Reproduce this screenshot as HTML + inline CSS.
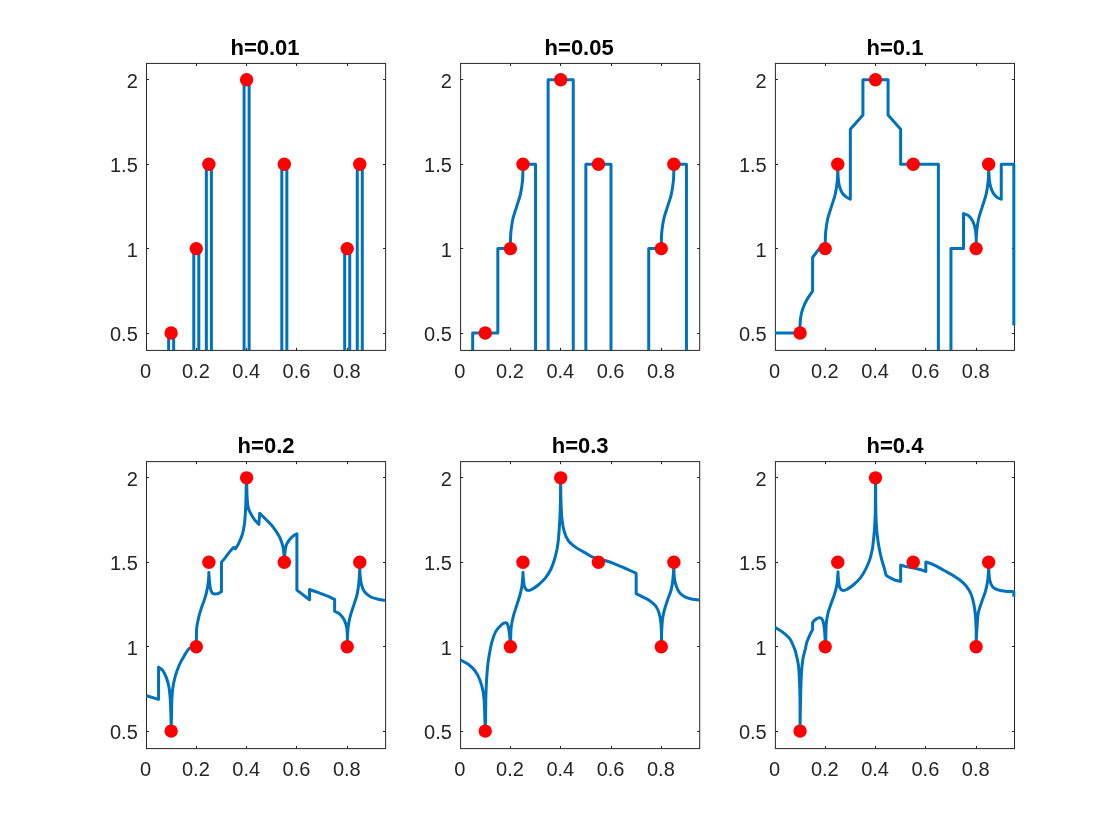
<!DOCTYPE html>
<html lang="en">
<head>
<meta charset="utf-8">
<title>Figure</title>
<style>
html,body{margin:0;padding:0;background:#fff;}
body{width:1120px;height:840px;overflow:hidden;}
svg{display:block;}
text{font-family:"Liberation Sans",sans-serif;}
.tk{font-size:20px;fill:#262626;}
.tt{font-size:22px;font-weight:bold;fill:#000;}
.ax{stroke:#262626;stroke-width:1;fill:none;}
.ln{stroke:#0072BD;stroke-width:3;fill:none;stroke-linejoin:round;stroke-linecap:butt;}
.dot{fill:#FF0000;}
</style>
</head>
<body>
<svg width="1120" height="840" viewBox="0 0 1120 840">
<rect x="0" y="0" width="1120" height="840" fill="#ffffff"/>
<defs>
<clipPath id="c0"><rect x="145.00" y="61.90" width="242.10" height="288.00"/></clipPath>
<clipPath id="c1"><rect x="459.10" y="61.90" width="242.10" height="288.00"/></clipPath>
<clipPath id="c2"><rect x="773.90" y="61.90" width="242.10" height="288.00"/></clipPath>
<clipPath id="c3"><rect x="145.00" y="460.10" width="242.10" height="288.00"/></clipPath>
<clipPath id="c4"><rect x="459.10" y="460.10" width="242.10" height="288.00"/></clipPath>
<clipPath id="c5"><rect x="773.90" y="460.10" width="242.10" height="288.00"/></clipPath>
</defs>
<g id="ax1">
<rect class="ax" x="146.50" y="63.40" width="239.10" height="287.00"/>
<path class="ax" d="M196.50 350.40 V347.80 M196.50 63.40 V66.00 M246.50 350.40 V347.80 M246.50 63.40 V66.00 M296.50 350.40 V347.80 M296.50 63.40 V66.00 M347.50 350.40 V347.80 M347.50 63.40 V66.00 M146.50 333.50 H149.10 M385.60 333.50 H383.00 M146.50 248.50 H149.10 M385.60 248.50 H383.00 M146.50 164.50 H149.10 M385.60 164.50 H383.00 M146.50 79.50 H149.10 M385.60 79.50 H383.00"/>
<text class="tk" x="145.60" y="377.80" text-anchor="middle">0</text>
<text class="tk" x="195.90" y="377.80" text-anchor="middle">0.2</text>
<text class="tk" x="246.20" y="377.80" text-anchor="middle">0.4</text>
<text class="tk" x="296.50" y="377.80" text-anchor="middle">0.6</text>
<text class="tk" x="346.80" y="377.80" text-anchor="middle">0.8</text>
<text class="tk" x="137.80" y="340.95" text-anchor="end">0.5</text>
<text class="tk" x="137.80" y="256.52" text-anchor="end">1</text>
<text class="tk" x="137.80" y="172.10" text-anchor="end">1.5</text>
<text class="tk" x="137.80" y="87.68" text-anchor="end">2</text>
<text class="tt" x="265.05" y="54.90" text-anchor="middle">h=0.01</text>
<path class="ln" clip-path="url(#c0)" d="M168.63 366.82 L168.63 333.05 L173.66 333.05 L173.66 366.82 M193.78 366.82 L193.78 248.62 L198.81 248.62 L198.81 366.82 M206.36 366.82 L206.36 164.20 L211.39 164.20 L211.39 366.82 M244.09 366.82 L244.09 79.78 L249.12 79.78 L249.12 366.82 M281.81 366.82 L281.81 164.20 L286.84 164.20 L286.84 366.82 M344.69 366.82 L344.69 248.62 L349.72 248.62 L349.72 366.82 M357.26 366.82 L357.26 164.20 L362.29 164.20 L362.29 366.82"/>
<circle class="dot" cx="171.15" cy="333.05" r="6.7"/>
<circle class="dot" cx="196.30" cy="248.62" r="6.7"/>
<circle class="dot" cx="208.88" cy="164.20" r="6.7"/>
<circle class="dot" cx="246.60" cy="79.78" r="6.7"/>
<circle class="dot" cx="284.33" cy="164.20" r="6.7"/>
<circle class="dot" cx="347.20" cy="248.62" r="6.7"/>
<circle class="dot" cx="359.77" cy="164.20" r="6.7"/>
</g>
<g id="ax2">
<rect class="ax" x="460.60" y="63.40" width="239.10" height="287.00"/>
<path class="ax" d="M510.50 350.40 V347.80 M510.50 63.40 V66.00 M560.50 350.40 V347.80 M560.50 63.40 V66.00 M611.50 350.40 V347.80 M611.50 63.40 V66.00 M661.50 350.40 V347.80 M661.50 63.40 V66.00 M460.60 333.50 H463.20 M699.70 333.50 H697.10 M460.60 248.50 H463.20 M699.70 248.50 H697.10 M460.60 164.50 H463.20 M699.70 164.50 H697.10 M460.60 79.50 H463.20 M699.70 79.50 H697.10"/>
<text class="tk" x="459.70" y="377.80" text-anchor="middle">0</text>
<text class="tk" x="510.00" y="377.80" text-anchor="middle">0.2</text>
<text class="tk" x="560.30" y="377.80" text-anchor="middle">0.4</text>
<text class="tk" x="610.60" y="377.80" text-anchor="middle">0.6</text>
<text class="tk" x="660.90" y="377.80" text-anchor="middle">0.8</text>
<text class="tk" x="451.90" y="340.95" text-anchor="end">0.5</text>
<text class="tk" x="451.90" y="256.52" text-anchor="end">1</text>
<text class="tk" x="451.90" y="172.10" text-anchor="end">1.5</text>
<text class="tk" x="451.90" y="87.68" text-anchor="end">2</text>
<text class="tt" x="579.15" y="54.90" text-anchor="middle">h=0.05</text>
<path class="ln" clip-path="url(#c1)" d="M472.68 366.82 L472.68 333.05 L497.83 333.05 L497.83 248.62 L510.40 248.62 C510.40 246.09 510.40 243.56 510.48 241.03 C510.57 237.93 510.57 234.82 510.90 231.74 C511.38 227.38 511.94 223.01 512.92 218.74 C513.87 214.55 515.43 210.52 516.69 206.41 C517.95 202.30 519.50 198.28 520.46 194.09 C521.44 189.81 521.99 185.44 522.47 181.09 C522.81 178.00 522.81 174.90 522.90 171.80 C522.97 169.27 522.98 166.73 522.98 164.20 L535.55 164.20 L535.55 366.82 M548.12 366.82 L548.12 79.78 L573.27 79.78 L573.27 366.82 M585.85 366.82 L585.85 164.20 L611.00 164.20 L611.00 366.82 M648.73 366.82 L648.73 248.62 L661.30 248.62 C661.30 246.09 661.30 243.56 661.38 241.03 C661.47 237.93 661.47 234.82 661.80 231.74 C662.28 227.38 662.84 223.01 663.82 218.74 C664.77 214.55 666.33 210.52 667.59 206.41 C668.85 202.30 670.40 198.28 671.36 194.09 C672.34 189.81 672.89 185.44 673.37 181.09 C673.71 178.00 673.71 174.90 673.80 171.80 C673.87 169.27 673.88 166.73 673.88 164.20 L686.45 164.20 L686.45 366.82"/>
<circle class="dot" cx="485.25" cy="333.05" r="6.7"/>
<circle class="dot" cx="510.40" cy="248.62" r="6.7"/>
<circle class="dot" cx="522.98" cy="164.20" r="6.7"/>
<circle class="dot" cx="560.70" cy="79.78" r="6.7"/>
<circle class="dot" cx="598.43" cy="164.20" r="6.7"/>
<circle class="dot" cx="661.30" cy="248.62" r="6.7"/>
<circle class="dot" cx="673.88" cy="164.20" r="6.7"/>
</g>
<g id="ax3">
<rect class="ax" x="775.40" y="63.40" width="239.10" height="287.00"/>
<path class="ax" d="M825.50 350.40 V347.80 M825.50 63.40 V66.00 M875.50 350.40 V347.80 M875.50 63.40 V66.00 M925.50 350.40 V347.80 M925.50 63.40 V66.00 M976.50 350.40 V347.80 M976.50 63.40 V66.00 M775.40 333.50 H778.00 M1014.50 333.50 H1011.90 M775.40 248.50 H778.00 M1014.50 248.50 H1011.90 M775.40 164.50 H778.00 M1014.50 164.50 H1011.90 M775.40 79.50 H778.00 M1014.50 79.50 H1011.90"/>
<text class="tk" x="774.50" y="377.80" text-anchor="middle">0</text>
<text class="tk" x="824.80" y="377.80" text-anchor="middle">0.2</text>
<text class="tk" x="875.10" y="377.80" text-anchor="middle">0.4</text>
<text class="tk" x="925.40" y="377.80" text-anchor="middle">0.6</text>
<text class="tk" x="975.70" y="377.80" text-anchor="middle">0.8</text>
<text class="tk" x="766.70" y="340.95" text-anchor="end">0.5</text>
<text class="tk" x="766.70" y="256.52" text-anchor="end">1</text>
<text class="tk" x="766.70" y="172.10" text-anchor="end">1.5</text>
<text class="tk" x="766.70" y="87.68" text-anchor="end">2</text>
<text class="tt" x="894.95" y="54.90" text-anchor="middle">h=0.1</text>
<path class="ln" clip-path="url(#c2)" d="M774.90 333.05 L800.05 333.05 C800.05 330.60 799.90 328.16 800.00 325.71 C800.12 322.85 800.24 319.97 800.71 317.14 C801.20 314.24 801.86 311.34 802.86 308.57 C804.01 305.36 805.49 302.27 807.14 299.29 C808.75 296.39 810.80 293.77 812.62 291.01 L812.62 257.41 L819.29 248.62 L825.20 248.62 C825.20 246.09 825.20 243.56 825.28 241.03 C825.37 237.93 825.37 234.82 825.70 231.74 C826.18 227.38 826.74 223.01 827.72 218.74 C828.67 214.55 830.23 210.52 831.49 206.41 C832.75 202.30 834.30 198.28 835.26 194.09 C836.24 189.81 836.79 185.44 837.27 181.09 C837.61 178.00 837.61 174.90 837.70 171.80 C837.77 169.27 837.77 166.73 837.77 164.20 C837.77 168.52 837.84 172.84 838.14 177.14 C838.34 180.02 838.57 182.92 839.29 185.71 C839.92 188.20 840.78 190.68 842.14 192.86 C843.21 194.57 844.83 195.91 846.43 197.14 C847.59 198.04 849.04 198.48 850.35 199.15 L850.35 129.25 L862.92 114.90 L862.92 79.78 L888.07 79.78 L888.07 114.90 L900.65 129.25 L900.65 164.20 L938.38 164.20 L938.38 366.82 M950.95 366.82 L950.95 248.62 L963.52 248.62 L963.52 213.50 C965.21 214.24 967.17 214.53 968.57 215.71 C970.39 217.26 971.83 219.28 972.86 221.43 C974.15 224.12 974.89 227.07 975.43 230.00 C976.04 233.29 976.17 236.66 976.29 240.00 C976.39 242.87 976.10 245.75 976.10 248.62 C976.10 246.09 976.10 243.56 976.18 241.03 C976.27 237.93 976.27 234.82 976.60 231.74 C977.08 227.38 977.64 223.01 978.62 218.74 C979.57 214.55 981.13 210.52 982.39 206.41 C983.64 202.30 985.20 198.28 986.16 194.09 C987.14 189.81 987.69 185.44 988.17 181.09 C988.51 178.00 988.51 174.90 988.60 171.80 C988.67 169.27 988.67 166.73 988.67 164.20 C988.67 168.99 988.86 173.80 989.29 178.57 C989.54 181.46 989.92 184.36 990.71 187.14 C991.36 189.40 992.27 191.62 993.57 193.57 C994.69 195.25 996.22 196.67 997.86 197.86 C998.84 198.57 1000.12 198.72 1001.25 199.15 L1001.25 164.20 L1013.82 164.20 L1013.82 325.62"/>
<circle class="dot" cx="800.05" cy="333.05" r="6.7"/>
<circle class="dot" cx="825.20" cy="248.62" r="6.7"/>
<circle class="dot" cx="837.77" cy="164.20" r="6.7"/>
<circle class="dot" cx="875.50" cy="79.78" r="6.7"/>
<circle class="dot" cx="913.23" cy="164.20" r="6.7"/>
<circle class="dot" cx="976.10" cy="248.62" r="6.7"/>
<circle class="dot" cx="988.67" cy="164.20" r="6.7"/>
</g>
<g id="ax4">
<rect class="ax" x="146.50" y="461.60" width="239.10" height="287.00"/>
<path class="ax" d="M196.50 748.60 V746.00 M196.50 461.60 V464.20 M246.50 748.60 V746.00 M246.50 461.60 V464.20 M296.50 748.60 V746.00 M296.50 461.60 V464.20 M347.50 748.60 V746.00 M347.50 461.60 V464.20 M146.50 731.50 H149.10 M385.60 731.50 H383.00 M146.50 646.50 H149.10 M385.60 646.50 H383.00 M146.50 562.50 H149.10 M385.60 562.50 H383.00 M146.50 477.50 H149.10 M385.60 477.50 H383.00"/>
<text class="tk" x="145.60" y="776.00" text-anchor="middle">0</text>
<text class="tk" x="195.90" y="776.00" text-anchor="middle">0.2</text>
<text class="tk" x="246.20" y="776.00" text-anchor="middle">0.4</text>
<text class="tk" x="296.50" y="776.00" text-anchor="middle">0.6</text>
<text class="tk" x="346.80" y="776.00" text-anchor="middle">0.8</text>
<text class="tk" x="137.80" y="739.00" text-anchor="end">0.5</text>
<text class="tk" x="137.80" y="654.58" text-anchor="end">1</text>
<text class="tk" x="137.80" y="570.15" text-anchor="end">1.5</text>
<text class="tk" x="137.80" y="485.73" text-anchor="end">2</text>
<text class="tt" x="266.05" y="453.10" text-anchor="middle">h=0.2</text>
<path class="ln" clip-path="url(#c3)" d="M146.43 695.71 L158.57 699.36 L158.57 667.11 C160.00 668.31 161.76 669.21 162.86 670.71 C164.43 672.86 165.50 675.36 166.43 677.86 C167.55 680.87 168.45 683.98 169.00 687.14 C169.74 691.39 169.99 695.70 170.29 700.00 C170.61 704.75 170.72 709.52 170.86 714.29 C171.01 719.89 171.15 725.49 171.15 731.10 C171.15 727.40 171.35 723.70 171.43 720.00 C171.54 714.76 171.51 709.52 171.71 704.29 C171.90 699.52 172.00 694.74 172.57 690.00 C173.10 685.67 173.87 681.36 175.00 677.14 C176.11 673.00 177.58 668.94 179.29 665.00 C180.68 661.77 182.46 658.72 184.29 655.71 C185.80 653.23 186.96 650.32 189.29 648.57 C191.22 647.12 193.96 647.31 196.30 646.68 C196.30 643.74 196.36 640.80 196.43 637.86 C196.50 634.52 196.36 631.17 196.71 627.86 C197.08 624.49 197.79 621.16 198.57 617.86 C199.37 614.48 200.37 611.16 201.43 607.86 C202.51 604.49 203.98 601.25 205.00 597.86 C205.99 594.57 206.78 591.23 207.43 587.86 C207.97 585.03 208.31 582.16 208.57 579.29 C208.79 576.91 208.86 574.53 208.86 572.14 C208.86 575.01 209.17 577.86 209.43 580.71 C209.65 583.10 209.76 585.52 210.29 587.86 C210.67 589.59 211.06 591.45 212.14 592.86 C212.77 593.67 213.98 593.93 215.00 594.00 C216.21 594.08 217.43 593.70 218.57 593.29 C219.61 592.90 220.49 592.18 221.45 591.63 L221.45 562.25 C222.87 560.55 224.34 558.88 225.71 557.14 C227.19 555.27 228.50 553.28 230.00 551.43 C231.12 550.04 232.38 548.76 233.57 547.43 L235.43 548.86 C236.48 547.10 237.68 545.42 238.57 543.57 C239.92 540.79 241.23 537.96 242.14 535.00 C243.15 531.74 243.80 528.37 244.29 525.00 C244.90 520.74 245.16 516.44 245.43 512.14 C245.73 507.39 245.86 502.62 246.00 497.86 C246.14 493.10 246.14 488.33 246.29 483.57 C246.34 481.65 246.60 479.74 246.60 477.83 C246.60 479.74 246.66 481.66 246.71 483.57 C246.84 488.33 246.84 493.10 247.14 497.86 C247.36 501.21 247.54 504.59 248.29 507.86 C248.74 509.88 249.75 511.74 250.71 513.57 C251.76 515.56 252.93 517.50 254.29 519.29 C255.65 521.08 257.33 522.62 258.86 524.29 L259.71 513.29 C261.71 515.29 263.71 517.29 265.71 519.29 C267.62 521.19 269.65 522.97 271.43 525.00 C273.00 526.79 274.39 528.73 275.71 530.71 C277.25 533.02 278.85 535.33 280.00 537.86 C281.25 540.60 282.17 543.50 282.86 546.43 C283.51 549.24 283.73 552.13 284.00 555.00 C284.22 557.41 284.33 559.83 284.33 562.25 C284.33 560.07 284.49 557.89 284.71 555.71 C285.05 552.37 285.06 548.94 286.00 545.71 C286.61 543.60 287.96 541.75 289.29 540.00 C290.51 538.39 292.01 537.00 293.57 535.71 C294.57 534.89 295.79 534.38 296.90 533.71 L296.90 590.11 L309.48 599.73 L309.48 589.43 C312.03 590.34 314.60 591.20 317.14 592.14 C320.01 593.20 322.87 594.29 325.71 595.43 C327.64 596.20 329.54 597.02 331.43 597.86 C332.51 598.34 333.56 598.88 334.62 599.40 L334.62 611.22 C336.42 612.24 338.47 612.90 340.00 614.29 C341.76 615.89 343.26 617.85 344.29 620.00 C345.58 622.69 346.39 625.62 346.86 628.57 C347.45 632.34 347.36 636.19 347.43 640.00 C347.47 642.23 347.20 644.45 347.20 646.68 C347.20 640.63 347.43 634.58 348.00 628.57 C348.37 624.72 349.08 620.90 350.00 617.14 C350.95 613.27 352.38 609.52 353.57 605.71 C354.76 601.90 356.24 598.17 357.14 594.29 C358.01 590.53 358.45 586.69 358.86 582.86 C359.31 578.59 359.52 574.29 359.71 570.00 C359.83 567.42 359.77 564.83 359.77 562.25 C359.77 566.26 359.70 570.28 360.00 574.29 C360.25 577.64 360.61 581.02 361.43 584.29 C362.05 586.77 362.81 589.33 364.29 591.43 C365.75 593.50 367.82 595.14 370.00 596.43 C372.18 597.71 374.70 598.35 377.14 599.00 C379.69 599.68 382.33 599.94 384.92 600.41"/>
<circle class="dot" cx="171.15" cy="731.10" r="6.7"/>
<circle class="dot" cx="196.30" cy="646.68" r="6.7"/>
<circle class="dot" cx="208.88" cy="562.25" r="6.7"/>
<circle class="dot" cx="246.60" cy="477.83" r="6.7"/>
<circle class="dot" cx="284.33" cy="562.25" r="6.7"/>
<circle class="dot" cx="347.20" cy="646.68" r="6.7"/>
<circle class="dot" cx="359.77" cy="562.25" r="6.7"/>
</g>
<g id="ax5">
<rect class="ax" x="460.60" y="461.60" width="239.10" height="287.00"/>
<path class="ax" d="M510.50 748.60 V746.00 M510.50 461.60 V464.20 M560.50 748.60 V746.00 M560.50 461.60 V464.20 M611.50 748.60 V746.00 M611.50 461.60 V464.20 M661.50 748.60 V746.00 M661.50 461.60 V464.20 M460.60 731.50 H463.20 M699.70 731.50 H697.10 M460.60 646.50 H463.20 M699.70 646.50 H697.10 M460.60 562.50 H463.20 M699.70 562.50 H697.10 M460.60 477.50 H463.20 M699.70 477.50 H697.10"/>
<text class="tk" x="459.70" y="776.00" text-anchor="middle">0</text>
<text class="tk" x="510.00" y="776.00" text-anchor="middle">0.2</text>
<text class="tk" x="560.30" y="776.00" text-anchor="middle">0.4</text>
<text class="tk" x="610.60" y="776.00" text-anchor="middle">0.6</text>
<text class="tk" x="660.90" y="776.00" text-anchor="middle">0.8</text>
<text class="tk" x="451.90" y="739.00" text-anchor="end">0.5</text>
<text class="tk" x="451.90" y="654.58" text-anchor="end">1</text>
<text class="tk" x="451.90" y="570.15" text-anchor="end">1.5</text>
<text class="tk" x="451.90" y="485.73" text-anchor="end">2</text>
<text class="tt" x="580.15" y="453.10" text-anchor="middle">h=0.3</text>
<path class="ln" clip-path="url(#c4)" d="M460.43 660.00 C463.05 661.43 465.91 662.48 468.29 664.29 C470.96 666.33 473.48 668.68 475.43 671.43 C477.58 674.47 479.15 677.93 480.43 681.43 C481.78 685.12 482.65 688.98 483.29 692.86 C483.98 697.10 484.19 701.42 484.43 705.71 C484.77 711.90 484.80 718.10 485.00 724.29 C485.07 726.56 485.25 728.83 485.25 731.10 C485.25 727.40 485.51 723.70 485.57 720.00 C485.71 712.38 485.67 704.76 485.86 697.14 C486.00 691.43 486.21 685.71 486.57 680.00 C486.93 674.28 487.33 668.55 488.00 662.86 C488.48 658.78 489.33 654.76 490.00 650.71 C490.62 647.86 491.04 644.95 491.86 642.14 C492.85 638.75 493.74 635.26 495.43 632.14 C496.88 629.46 498.91 627.07 501.14 625.00 C502.31 623.91 503.84 623.03 505.43 622.86 C506.28 622.76 507.22 623.50 507.57 624.29 C508.48 626.28 508.65 628.55 509.00 630.71 C509.46 633.55 509.75 636.42 510.00 639.29 C510.22 641.74 510.40 644.21 510.40 646.68 C510.40 643.73 510.60 640.80 510.71 637.86 C510.85 634.52 510.75 631.17 511.14 627.86 C511.60 624.01 512.35 620.19 513.29 616.43 C514.25 612.56 515.66 608.81 516.86 605.00 C517.90 601.67 519.09 598.37 520.00 595.00 C520.76 592.18 521.40 589.32 521.86 586.43 C522.31 583.59 522.49 580.72 522.71 577.86 C522.87 575.96 523.00 574.05 523.00 572.14 C523.00 575.01 523.25 577.87 523.57 580.71 C523.82 582.88 523.89 585.13 524.71 587.14 C525.27 588.48 526.18 590.01 527.57 590.43 C528.99 590.85 530.54 589.95 531.86 589.29 C534.15 588.12 536.32 586.66 538.29 585.00 C540.86 582.83 543.33 580.49 545.43 577.86 C547.54 575.22 549.36 572.32 550.86 569.29 C552.43 566.10 553.53 562.68 554.57 559.29 C555.58 556.01 556.19 552.62 557.00 549.29 C557.43 546.43 557.98 543.59 558.29 540.71 C558.79 535.96 559.12 531.20 559.43 526.43 C559.74 521.67 559.96 516.91 560.14 512.14 C560.32 507.38 560.42 502.62 560.50 497.86 C560.57 493.57 560.53 489.29 560.57 485.00 C560.60 482.61 560.70 480.22 560.70 477.83 C560.70 480.22 560.70 482.61 560.71 485.00 C560.75 489.29 560.76 493.57 560.86 497.86 C560.95 501.67 561.08 505.48 561.29 509.29 C561.46 512.62 561.58 515.97 562.00 519.29 C562.49 523.12 562.91 527.00 564.00 530.71 C565.02 534.19 566.21 537.74 568.29 540.71 C570.11 543.34 572.84 545.26 575.43 547.14 C578.10 549.09 581.15 550.46 584.00 552.14 C586.39 553.56 588.76 555.00 591.14 556.43 C593.52 557.38 595.83 558.54 598.29 559.29 C600.38 559.92 602.61 560.00 604.71 560.57 C607.85 561.43 610.95 562.45 614.00 563.57 C616.90 564.64 619.73 565.91 622.57 567.14 C625.45 568.39 628.30 569.69 631.14 571.00 C632.82 571.77 634.48 572.60 636.15 573.39 L636.15 593.66 C638.29 594.72 640.45 595.75 642.57 596.86 C644.97 598.11 647.49 599.18 649.71 600.71 C651.80 602.15 653.89 603.70 655.43 605.71 C657.05 607.83 658.20 610.32 659.00 612.86 C660.02 616.09 660.54 619.48 660.86 622.86 C661.40 628.55 661.47 634.28 661.57 640.00 C661.61 642.23 661.30 644.45 661.30 646.68 C661.30 638.73 661.54 630.78 662.14 622.86 C662.44 619.01 663.11 615.18 664.00 611.43 C664.92 607.55 666.31 603.79 667.57 600.00 C668.69 596.64 670.24 593.42 671.14 590.00 C672.01 586.73 672.45 583.36 672.86 580.00 C673.31 576.21 673.50 572.39 673.71 568.57 C673.83 566.47 673.88 564.36 673.88 562.25 C673.88 567.22 673.81 572.20 674.29 577.14 C674.57 580.05 675.19 582.95 676.14 585.71 C677.01 588.23 678.04 590.79 679.71 592.86 C681.22 594.71 683.30 596.08 685.43 597.14 C687.65 598.25 690.14 598.76 692.57 599.29 C694.69 599.74 696.87 599.81 699.02 600.07"/>
<circle class="dot" cx="485.25" cy="731.10" r="6.7"/>
<circle class="dot" cx="510.40" cy="646.68" r="6.7"/>
<circle class="dot" cx="522.98" cy="562.25" r="6.7"/>
<circle class="dot" cx="560.70" cy="477.83" r="6.7"/>
<circle class="dot" cx="598.43" cy="562.25" r="6.7"/>
<circle class="dot" cx="661.30" cy="646.68" r="6.7"/>
<circle class="dot" cx="673.88" cy="562.25" r="6.7"/>
</g>
<g id="ax6">
<rect class="ax" x="775.40" y="461.60" width="239.10" height="287.00"/>
<path class="ax" d="M825.50 748.60 V746.00 M825.50 461.60 V464.20 M875.50 748.60 V746.00 M875.50 461.60 V464.20 M925.50 748.60 V746.00 M925.50 461.60 V464.20 M976.50 748.60 V746.00 M976.50 461.60 V464.20 M775.40 731.50 H778.00 M1014.50 731.50 H1011.90 M775.40 646.50 H778.00 M1014.50 646.50 H1011.90 M775.40 562.50 H778.00 M1014.50 562.50 H1011.90 M775.40 477.50 H778.00 M1014.50 477.50 H1011.90"/>
<text class="tk" x="774.50" y="776.00" text-anchor="middle">0</text>
<text class="tk" x="824.80" y="776.00" text-anchor="middle">0.2</text>
<text class="tk" x="875.10" y="776.00" text-anchor="middle">0.4</text>
<text class="tk" x="925.40" y="776.00" text-anchor="middle">0.6</text>
<text class="tk" x="975.70" y="776.00" text-anchor="middle">0.8</text>
<text class="tk" x="766.70" y="739.00" text-anchor="end">0.5</text>
<text class="tk" x="766.70" y="654.58" text-anchor="end">1</text>
<text class="tk" x="766.70" y="570.15" text-anchor="end">1.5</text>
<text class="tk" x="766.70" y="485.73" text-anchor="end">2</text>
<text class="tt" x="894.95" y="453.10" text-anchor="middle">h=0.4</text>
<path class="ln" clip-path="url(#c5)" d="M775.43 627.57 C778.05 629.24 780.87 630.62 783.29 632.57 C785.90 634.69 788.59 636.90 790.43 639.71 C792.70 643.19 793.76 647.33 795.43 651.14 C796.38 655.52 797.67 659.84 798.29 664.29 C799.01 669.49 799.18 674.75 799.43 680.00 C799.75 686.66 799.92 693.33 800.00 700.00 C800.13 710.37 800.05 720.73 800.05 731.10 C800.05 722.64 800.27 714.18 800.43 705.71 C800.54 699.52 800.65 693.33 800.86 687.14 C801.03 681.90 801.18 676.66 801.57 671.43 C801.89 667.13 802.28 662.82 803.00 658.57 C803.57 655.19 804.62 651.90 805.43 648.57 C805.90 646.43 806.16 644.23 806.86 642.14 C807.84 639.21 809.12 636.38 810.43 633.57 C811.05 632.25 811.89 631.05 812.62 629.79 L812.62 622.53 C813.37 621.69 813.98 620.71 814.86 620.00 C815.94 619.13 817.10 618.25 818.43 617.86 C819.30 617.60 820.40 617.61 821.14 618.14 C822.10 618.83 822.68 620.01 823.00 621.14 C823.79 623.88 824.09 626.74 824.43 629.57 C824.81 632.80 825.00 636.04 825.14 639.29 C825.25 641.75 825.20 644.21 825.20 646.68 C825.20 643.73 825.73 640.80 825.86 637.86 C826.04 633.57 825.79 629.27 826.14 625.00 C826.46 621.16 826.98 617.32 827.86 613.57 C828.65 610.15 830.00 606.89 831.14 603.57 C832.29 600.22 833.67 596.95 834.71 593.57 C835.58 590.76 836.35 587.90 836.86 585.00 C837.35 582.17 837.47 579.29 837.71 576.43 C837.85 574.91 838.00 573.38 838.00 571.86 C838.00 574.82 838.24 577.77 838.57 580.71 C838.81 582.88 838.89 585.13 839.71 587.14 C840.27 588.48 841.18 590.01 842.57 590.43 C843.99 590.85 845.54 589.95 846.86 589.29 C849.15 588.12 851.32 586.66 853.29 585.00 C855.86 582.83 858.36 580.51 860.43 577.86 C862.58 575.09 864.28 571.99 865.86 568.86 C867.48 565.63 868.89 562.29 870.00 558.86 C871.13 555.36 871.71 551.71 872.57 548.14 C873.05 543.76 873.59 539.39 874.00 535.00 C874.35 531.20 874.64 527.39 874.86 523.57 C875.07 519.77 875.19 515.95 875.29 512.14 C875.40 507.38 875.43 502.62 875.47 497.86 C875.51 493.57 875.49 489.29 875.50 485.00 C875.50 482.61 875.50 480.22 875.50 477.83 C875.50 480.22 875.62 482.61 875.64 485.00 C875.69 489.29 875.68 493.57 875.71 497.86 C875.75 502.62 875.75 507.38 875.86 512.14 C875.94 515.95 876.06 519.77 876.29 523.57 C876.49 527.15 876.74 530.73 877.14 534.29 C877.60 538.35 878.13 542.41 878.86 546.43 C879.66 550.89 880.61 555.32 881.71 559.71 C882.47 562.71 883.52 565.62 884.43 568.57 C885.00 570.71 885.19 573.00 886.14 575.00 C886.53 575.83 887.57 576.14 888.29 576.71 C890.43 577.81 892.47 579.13 894.71 580.00 C896.62 580.74 898.67 581.00 900.65 581.50 L900.65 565.12 C902.96 565.70 905.25 566.33 907.57 566.86 C911.37 567.72 915.22 568.33 919.00 569.29 C921.31 569.87 923.53 570.73 925.80 571.45 L925.80 561.91 C928.30 562.80 930.88 563.46 933.29 564.57 C936.73 566.16 939.97 568.16 943.29 570.00 C947.11 572.12 951.04 574.07 954.71 576.43 C957.72 578.36 960.70 580.40 963.29 582.86 C965.50 584.96 967.45 587.37 969.00 590.00 C970.57 592.66 971.74 595.59 972.57 598.57 C973.75 602.77 974.48 607.10 975.00 611.43 C975.68 617.12 975.96 622.85 976.14 628.57 C976.33 634.60 976.10 640.64 976.10 646.68 C976.10 639.68 976.69 632.70 977.14 625.71 C977.42 621.42 977.47 617.08 978.29 612.86 C979.05 608.94 980.60 605.21 981.86 601.43 C982.98 598.07 984.46 594.83 985.43 591.43 C986.37 588.15 987.08 584.80 987.57 581.43 C988.13 577.64 988.35 573.82 988.57 570.00 C988.72 567.42 988.67 564.83 988.67 562.25 C988.67 567.22 988.73 572.21 989.29 577.14 C989.56 579.59 990.09 582.06 991.14 584.29 C991.94 585.97 993.16 587.55 994.71 588.57 C996.38 589.68 998.47 589.99 1000.43 590.43 C1002.78 590.95 1005.18 591.21 1007.57 591.43 C1009.65 591.61 1011.74 591.56 1013.82 591.63 L1013.82 596.86"/>
<circle class="dot" cx="800.05" cy="731.10" r="6.7"/>
<circle class="dot" cx="825.20" cy="646.68" r="6.7"/>
<circle class="dot" cx="837.77" cy="562.25" r="6.7"/>
<circle class="dot" cx="875.50" cy="477.83" r="6.7"/>
<circle class="dot" cx="913.23" cy="562.25" r="6.7"/>
<circle class="dot" cx="976.10" cy="646.68" r="6.7"/>
<circle class="dot" cx="988.67" cy="562.25" r="6.7"/>
</g>
</svg>
</body>
</html>
